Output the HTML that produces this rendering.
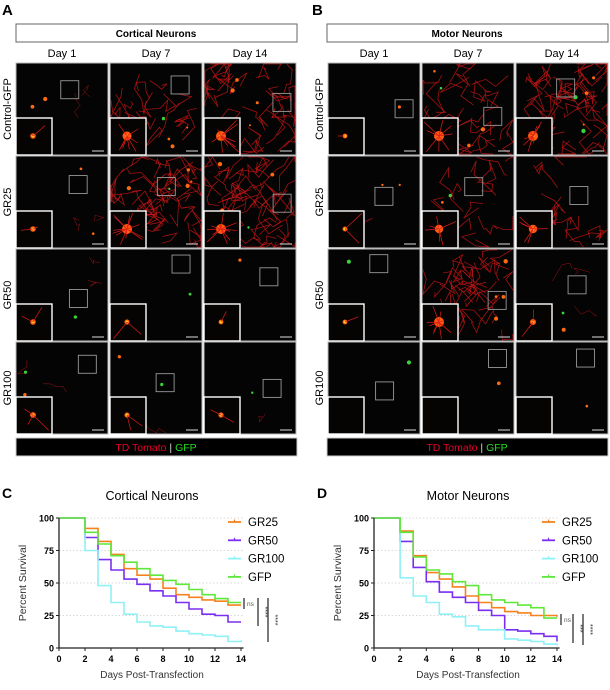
<!DOCTYPE html>
<html><head><meta charset="utf-8">
<style>
html,body{margin:0;padding:0;background:#fff;}
body{width:610px;height:685px;overflow:hidden;font-family:"Liberation Sans",sans-serif;}
svg text{font-family:"Liberation Sans",sans-serif;}
</style></head>
<body>
<svg id="fig" width="610" height="685" viewBox="0 0 610 685" xmlns="http://www.w3.org/2000/svg">
  <text x="2" y="15" font-size="15" font-weight="bold">A</text>
  <text x="312" y="15" font-size="15" font-weight="bold">B</text>
  <rect x="16" y="24" width="281" height="18" fill="#fff" stroke="#666" stroke-width="1"/>
  <text x="156" y="37" font-size="10" font-weight="bold" text-anchor="middle">Cortical Neurons</text>
  <rect x="327" y="24" width="281" height="18" fill="#fff" stroke="#666" stroke-width="1"/>
  <text x="467" y="37" font-size="10" font-weight="bold" text-anchor="middle">Motor Neurons</text>
  <g id="grids"></g>
  <rect x="16" y="438" width="281" height="18" fill="#000" stroke="#ccc"/>
  <text x="156" y="451" font-size="10.5" text-anchor="middle"><tspan fill="#e8002a">TD Tomato</tspan><tspan fill="#ddd"> | </tspan><tspan fill="#22dd22">GFP</tspan></text>
  <rect x="327" y="438" width="281" height="18" fill="#000" stroke="#ccc"/>
  <text x="467" y="451" font-size="10.5" text-anchor="middle"><tspan fill="#e8002a">TD Tomato</tspan><tspan fill="#ddd"> | </tspan><tspan fill="#22dd22">GFP</tspan></text>
  <g id="charts"></g>
</svg>
<script>
// ---------- Chart data ----------
const days = [0,1,2,3,4,5,6,7,8,9,10,11,12,13,14];
const seriesNames = ["GR25","GR50","GR100","GFP"];
const corticalGR25  = [100,100,92,82,72,61,56,53,46,41,39,37,36,33,33];
const corticalGR50  = [100,100,85,68,60,53,49,44,40,35,30,26,25,20,20];
const corticalGR100 = [100,100,75,48,35,26,20,17,16,13,11,10,9,5,6];
const corticalGFP   = [100,100,89,80,71,66,61,56,52,49,45,41,38,35,35];
const motorGR25  = [100,100,90,71,58,53,47,40,35,31,28,27,25,25,24];
const motorGR50  = [100,100,82,62,51,43,39,35,29,25,14,13,11,9,5];
const motorGR100 = [100,100,54,40,35,26,24,17,14,14,7,6,5,3,2];
const motorGFP   = [100,100,89,70,60,57,51,48,41,37,35,33,31,23,23];
const xTicks = [0,2,4,6,8,10,12,14];
const yTicks = [0,25,50,75,100];

const NS = "http://www.w3.org/2000/svg";
const colors = {GR25:"#f5821f",GR50:"#7a2ff0",GR100:"#8ff0f5",GFP:"#5ee83a"};
function mk(tag, attrs, parent){
  const e = document.createElementNS(NS, tag);
  for (const k in attrs) e.setAttribute(k, attrs[k]);
  parent.appendChild(e); return e;
}

function drawChart(cfg){
  const g = mk("g", {}, document.getElementById("charts"));
  
  
  const xs = d => cfg.x0 + d * cfg.dx;
  const ys = v => 648 - v * 1.3;
  const L = mk("text", {x:cfg.letterX, y:498, "font-size":14, "font-weight":"bold"}, g);
  L.textContent = cfg.letter;
  
  
  const T = mk("text", {x:cfg.titleX, y:500, "font-size":12.5, "text-anchor":"middle"}, g);
  T.textContent = cfg.title;
  
  
  yTicks.forEach(v => {
    if (v === 0) return;
    const gl = mk("line", {x1:xs(0), x2:xs(14.2), y1:ys(v), y2:ys(v), stroke:"#ccc", "stroke-width":0.8, "stroke-dasharray":"1.5,2"}, g);
    
    
  });
  cfg.series.forEach((vals, si) => {
    const nm = seriesNames[si];
    let d = "M" + xs(days[0]) + "," + ys(vals[0]);
    for (let i = 1; i < days.length; i++) {
      d += " H" + xs(days[i]) + " V" + ys(vals[i]);
    }
    const p = mk("path", {d:d, fill:"none", stroke:colors[nm], "stroke-width":1.6}, g);
    
    
  });
  const ya = mk("line", {x1:xs(0), x2:xs(0), y1:ys(100), y2:ys(0)+0.5, stroke:"#222", "stroke-width":1.3}, g);
  
  
  const xa = mk("line", {x1:xs(0), x2:xs(14.2), y1:ys(0), y2:ys(0), stroke:"#222", "stroke-width":1.3}, g);
  
  
  xTicks.forEach(t => {
    mk("line", {x1:xs(t), x2:xs(t), y1:ys(0), y2:ys(0)+3, stroke:"#222", "stroke-width":1}, g);
    const tl = mk("text", {x:xs(t), y:ys(0)+14, "font-size":9, "font-weight":"bold", "text-anchor":"middle"}, g);
    tl.textContent = t;
    
    
  });
  yTicks.forEach(v => {
    mk("line", {x1:xs(0)-3, x2:xs(0), y1:ys(v), y2:ys(v), stroke:"#222", "stroke-width":1}, g);
    const tl = mk("text", {x:xs(0)-5, y:ys(v)+3.5, "font-size":9, "font-weight":"bold", "text-anchor":"end"}, g);
    tl.textContent = v;
    
    
  });
  const xt = mk("text", {x:cfg.titleX, y:678, "font-size":10, "text-anchor":"middle", fill:"#333"}, g);
  xt.textContent = "Days Post-Transfection";
  
  
  const yt = mk("text", {x:0, y:0, "font-size":10.5, "text-anchor":"middle", fill:"#333", transform:"translate(" + (cfg.x0-33) + ",583) rotate(-90)"}, g);
  yt.textContent = "Percent Survival";
  
  
  seriesNames.forEach((nm, i) => {
    const y = 522 + i * 18.3;
    const ln = mk("line", {x1:cfg.legX, x2:cfg.legX+13, y1:y, y2:y, stroke:colors[nm], "stroke-width":1.8}, g);
    
    
    mk("line", {x1:cfg.legX+6.5, x2:cfg.legX+6.5, y1:y-2.5, y2:y, stroke:colors[nm], "stroke-width":1.2}, g);
    const lt = mk("text", {x:cfg.legX+20, y:y+4, "font-size":11.5}, g);
    lt.textContent = nm;
    
    
  });
  const s = cfg.sig;
  mk("line", {x1:s[0], x2:s[0], y1:s[3], y2:s[3]+11, stroke:"#222", "stroke-width":1.2}, g);
  const ns = mk("text", {x:s[0]+3, y:s[3]+8, "font-size":6.5, fill:"#555"}, g);
  ns.textContent = "ns";
  
  
  [[s[1], s[4], cfg.stars[0]], [s[2], s[5], cfg.stars[1]]].forEach(([x, y2, st]) => {
    mk("line", {x1:x, x2:x, y1:s[3], y2:y2, stroke:"#222", "stroke-width":1.2}, g);
    const t = mk("text", {x:0, y:0, "font-size":7, fill:"#333", "text-anchor":"middle", transform:"translate(" + (x+5) + "," + ((s[3]+y2)/2) + ") rotate(90)"}, g);
    t.textContent = st;
    
    
  });
}
drawChart({name:"cortical-survival-chart", letter:"C", letterX:2, title:"Cortical Neurons", titleX:152, x0:59, dx:13,
  series:[corticalGR25, corticalGR50, corticalGR100, corticalGFP], legX:228, sig:[244,258,268,598,626,642], stars:["****","****"]});
drawChart({name:"motor-survival-chart", letter:"D", letterX:317, title:"Motor Neurons", titleX:468, x0:374, dx:13.07,
  series:[motorGR25, motorGR50, motorGR100, motorGFP], legX:542, sig:[561,573,583,614,643,645], stars:["***","****"]});

// ---------- Micrograph panels (decorative) ----------
let seed = 12345;
function rnd(){ seed = (seed * 1103515245 + 12345) % 2147483648; return seed / 2147483648; }
const grids = document.getElementById("grids");
const rowNames = ["Control-GFP","GR25","GR50","GR100"];
const dayNames = ["Day 1","Day 7","Day 14"];
const densA = [[0.8,2.5,3.2],[0.8,4,4],[0.8,0.6,0.4],[0.9,0.6,0.6]];
const densB = [[0.4,3,4],[0.5,2.2,2.2],[0.4,3.5,1],[0.2,0.2,0.2]];
function drawGrid(x0, dens, label){
  const G = mk("g", {}, grids);
  
  
  dayNames.forEach((dn, c) => {
    const t = mk("text", {x:x0 + c*94 + 46, y:57, "font-size":11, "text-anchor":"middle"}, G);
    t.textContent = dn;
    
    
  });
  rowNames.forEach((rn, r) => {
    const y0 = 63 + r*93;
    const t = mk("text", {x:0, y:0, "font-size":11, "text-anchor":"middle", transform:"translate(" + (x0-5) + "," + (y0+46) + ") rotate(-90)"}, G);
    t.textContent = rn;
    
    
    for (let c = 0; c < 3; c++) {
      const x = x0 + c*94;
      const cell = mk("g", {}, G);
      
      
      mk("rect", {x:x, y:y0, width:92, height:92, fill:"#040404", stroke:"#bbb", "stroke-width":1}, cell);
      const dn = dens[r][c];
      const nl = Math.round(dn * dn * 3);
      const step = dn > 1.5 ? 30 : 18;
      for (let i = 0; i < nl; i++) {
        let px = x + 5 + rnd()*82, py = y0 + 5 + rnd()*82;
        let d = "M" + px.toFixed(1) + "," + py.toFixed(1);
        for (let k = 0; k < 4; k++) {
          px = Math.min(x+91, Math.max(x+1, px + (rnd()-0.5)*step));
          py = Math.min(y0+91, Math.max(y0+1, py + (rnd()-0.5)*step));
          d += " L" + px.toFixed(1) + "," + py.toFixed(1);
        }
        mk("path", {d:d, fill:"none", stroke:"#c81515", "stroke-width":dn > 2 ? 0.8 : 0.5, opacity:0.8}, cell);
      }
      const nb = 1 + Math.round(dn);
      for (let i = 0; i < nb; i++) {
        mk("circle", {cx:x+8+rnd()*76, cy:y0+8+rnd()*76, r:1+rnd()*1.2, fill: rnd()<0.3 ? "#3ad23a" : "#ff6a10"}, cell);
      }
      mk("rect", {x:x, y:y0+55, width:36, height:37, fill:"#060303", stroke:"#fff", "stroke-width":1.4}, cell);
      if (dn > 0.3) {
        mk("circle", {cx:x+17, cy:y0+73, r:2 + Math.min(dn,3), fill:"#ff5a10"}, cell);
        mk("circle", {cx:x+17, cy:y0+73, r:1.4, fill:"#ffd020"}, cell);
        for (let k = 0; k < Math.round(dn*3); k++) {
          mk("line", {x1:x+17, y1:y0+73, x2:x+2+rnd()*33, y2:y0+57+rnd()*33, stroke:"#e01a1a", "stroke-width":0.7}, cell);
        }
      }
      const bx = x + 40 + rnd()*30, by = y0 + 5 + rnd()*40;
      mk("rect", {x:bx, y:by, width:18, height:18, fill:"none", stroke:"#999", "stroke-width":0.9}, cell);
      mk("line", {x1:x+76, x2:x+88, y1:y0+88, y2:y0+88, stroke:"#ddd", "stroke-width":1}, cell);
    }
  });
}
drawGrid(16, densA, "cortical");
drawGrid(328, densB, "motor");
</script>
</body></html>
